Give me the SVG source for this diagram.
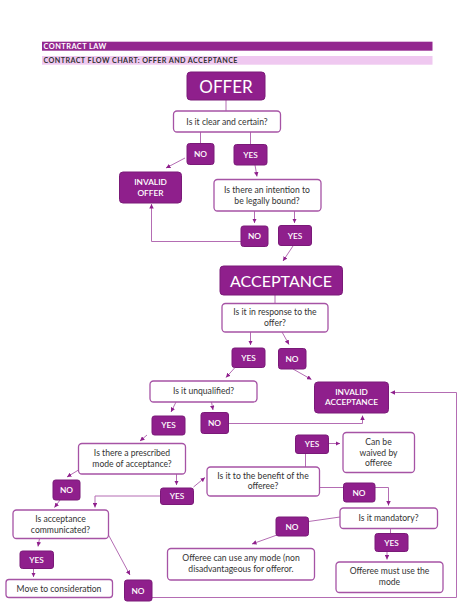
<svg xmlns="http://www.w3.org/2000/svg" width="474" height="613" viewBox="0 0 474 613">
<defs>
<style>
text{font-family:Lato,"Open Sans","Liberation Sans",sans-serif;}
.p{fill:#8f1f8c;stroke:#7a1a78;stroke-width:1;}
.w{fill:#ffffff;stroke:#a653a5;stroke-width:1.3;}
.tw{fill:#ffffff;font-size:8.3px;font-weight:600;text-anchor:middle;}
.td{fill:#333333;font-size:8.6px;text-anchor:middle;}
.big{fill:#ffffff;text-anchor:middle;}
.c{fill:none;stroke:#b46db3;stroke-width:1;}
</style>
<marker id="ah" viewBox="0 0 10 10" refX="10" refY="5" markerWidth="4.5" markerHeight="4.5" markerUnits="userSpaceOnUse" orient="auto">
<path d="M0,0 L10,5 L0,10 Z" fill="#8f1f8c"/>
</marker>
</defs>
<rect width="474" height="613" fill="#ffffff"/>
<g id="header">
<rect x="42" y="41.7" width="390.5" height="9" fill="#93278f"/>
<text x="43.5" y="49" fill="#ffffff" style="font-size:7.4px;font-weight:700;letter-spacing:0.45px">CONTRACT LAW</text>
<rect x="42" y="56" width="390.5" height="8.7" fill="#efc8f0"/>
<text x="43.5" y="63" fill="#333333" style="font-size:7.2px;font-weight:700;letter-spacing:0.4px">CONTRACT FLOW CHART: OFFER AND ACCEPTANCE</text>
</g>
<g id="connectors">
<line class="c" x1="226" y1="100" x2="226" y2="111"/>
<line class="c" x1="200.5" y1="132" x2="200.5" y2="143.5"/>
<line class="c" x1="250.5" y1="132" x2="250.5" y2="144.5"/>
<line class="c" x1="185" y1="158" x2="166" y2="168" marker-end="url(#ah)"/>
<line class="c" x1="255" y1="165" x2="257" y2="176.5" marker-end="url(#ah)"/>
<line class="c" x1="254.5" y1="211" x2="254.5" y2="223" marker-end="url(#ah)"/>
<line class="c" x1="294.5" y1="211" x2="294.5" y2="223" marker-end="url(#ah)"/>
<polyline class="c" points="241,241.5 151.5,241.5 151.5,204" marker-end="url(#ah)"/>
<line class="c" x1="293" y1="246" x2="283" y2="261" marker-end="url(#ah)"/>
<line class="c" x1="275" y1="295" x2="275" y2="303.5"/>
<line class="c" x1="250.5" y1="332" x2="250.5" y2="345" marker-end="url(#ah)"/>
<line class="c" x1="282" y1="332" x2="289" y2="344.5" marker-end="url(#ah)"/>
<line class="c" x1="293" y1="369" x2="311.5" y2="379.5" marker-end="url(#ah)"/>
<line class="c" x1="235" y1="367.5" x2="226" y2="377.5" marker-end="url(#ah)"/>
<line class="c" x1="176" y1="402" x2="171" y2="412" marker-end="url(#ah)"/>
<line class="c" x1="211.5" y1="402" x2="213" y2="410" marker-end="url(#ah)"/>
<polyline class="c" points="228.5,423.5 362.5,423.5 362.5,415.5" marker-end="url(#ah)"/>
<polyline class="c" points="152,597.5 456.5,597.5 456.5,392.5 390.5,392.5" marker-end="url(#ah)"/>
<line class="c" x1="147" y1="435" x2="140" y2="441" marker-end="url(#ah)"/>
<line class="c" x1="78.5" y1="470" x2="67" y2="477" marker-end="url(#ah)"/>
<line class="c" x1="60" y1="500" x2="54.5" y2="507.5" marker-end="url(#ah)"/>
<line class="c" x1="176.5" y1="474" x2="176.5" y2="485" marker-end="url(#ah)"/>
<line class="c" x1="193.5" y1="487" x2="205" y2="477.5" marker-end="url(#ah)"/>
<polyline class="c" points="160.5,496 95,496 95,507.5" marker-end="url(#ah)"/>
<line class="c" x1="328.5" y1="443.5" x2="340" y2="443.5" marker-end="url(#ah)"/>
<line class="c" x1="305.5" y1="453.5" x2="305.5" y2="467"/>
<line class="c" x1="319.5" y1="487.5" x2="343.5" y2="487.5"/>
<polyline class="c" points="375,487.5 388.5,487.5 388.5,505.5" marker-end="url(#ah)"/>
<line class="c" x1="340" y1="517" x2="308.5" y2="521.5"/>
<line class="c" x1="277" y1="535" x2="252" y2="544" marker-end="url(#ah)"/>
<line class="c" x1="390.5" y1="528.5" x2="390.5" y2="533.5"/>
<line class="c" x1="387" y1="552" x2="387" y2="559.5" marker-end="url(#ah)"/>
<line class="c" x1="39.5" y1="538.5" x2="38" y2="546.5" marker-end="url(#ah)"/>
<line class="c" x1="33.5" y1="568.5" x2="33.5" y2="577" marker-end="url(#ah)"/>
<line class="c" x1="108.5" y1="535" x2="130" y2="575" marker-end="url(#ah)"/>
</g>
<g id="offer"><rect class="p" x="187" y="72" width="78" height="28" rx="3.5"/><text class="big" x="226" y="92.5" style="font-size:17px">OFFER</text></g>
<g id="q-clear"><rect class="w" x="173.5" y="111" width="107" height="21" rx="3.5"/><text class="td" x="227" y="124.5">Is it clear and certain?</text></g>
<g id="no1"><rect class="p" x="187" y="143.5" width="27" height="21" rx="2.5"/><text class="tw" x="200.5" y="157">NO</text></g>
<g id="yes1"><rect class="p" x="234" y="144.5" width="33" height="20.5" rx="2.5"/><text class="tw" x="250.5" y="157.5">YES</text></g>
<g id="invalid-offer"><rect class="p" x="119.5" y="172" width="62" height="31" rx="3.5"/><text class="tw" x="150.5" y="185">INVALID</text><text class="tw" x="150.5" y="195.5">OFFER</text></g>
<g id="q-intention"><rect class="w" x="214" y="179.5" width="107" height="31.5" rx="3.5"/><text class="td" x="267" y="192.5">Is there an intention to</text><text class="td" x="267" y="203.5">be legally bound?</text></g>
<g id="no2"><rect class="p" x="241" y="226" width="27" height="20.5" rx="2.5"/><text class="tw" x="254.5" y="239">NO</text></g>
<g id="yes2"><rect class="p" x="278.5" y="225.5" width="33" height="20" rx="2.5"/><text class="tw" x="295" y="238.5">YES</text></g>
<g id="acceptance"><rect class="p" x="220" y="266" width="122.5" height="29" rx="3.5"/><text class="big" x="281" y="286.5" style="font-size:16px">ACCEPTANCE</text></g>
<g id="q-response"><rect class="w" x="222" y="303.5" width="106" height="28.5" rx="3.5"/><text class="td" x="275" y="315">Is it in response to the</text><text class="td" x="275" y="326">offer?</text></g>
<g id="yes3"><rect class="p" x="232" y="348" width="33" height="19.5" rx="2.5"/><text class="tw" x="248.5" y="360.5">YES</text></g>
<g id="no3"><rect class="p" x="278.5" y="348.5" width="27.5" height="20.5" rx="2.5"/><text class="tw" x="292" y="361.5">NO</text></g>
<g id="q-unqualified"><rect class="w" x="150" y="381" width="107" height="21" rx="3.5"/><text class="td" x="203.5" y="394">Is it unqualified?</text></g>
<g id="invalid-acceptance"><rect class="p" x="314.5" y="382" width="74" height="31" rx="3.5"/><text class="tw" x="351.5" y="394.5">INVALID</text><text class="tw" x="351.5" y="405">ACCEPTANCE</text></g>
<g id="yes4"><rect class="p" x="152" y="416" width="33" height="19" rx="2.5"/><text class="tw" x="168.5" y="428">YES</text></g>
<g id="no4"><rect class="p" x="201" y="412.5" width="27.5" height="21" rx="2.5"/><text class="tw" x="214.5" y="425.5">NO</text></g>
<g id="q-prescribed"><rect class="w" x="78.5" y="443.5" width="107" height="30.5" rx="3.5"/><text class="td" x="132" y="456">Is there a prescribed</text><text class="td" x="132" y="466.5">mode of acceptance?</text></g>
<g id="yes5"><rect class="p" x="295.5" y="435" width="33" height="18.5" rx="2.5"/><text class="tw" x="312" y="446.5">YES</text></g>
<g id="waived"><rect class="w" x="343" y="432.5" width="71.5" height="40" rx="3.5"/><text class="td" x="378.5" y="445">Can be</text><text class="td" x="378.5" y="455.5">waived by</text><text class="td" x="378.5" y="466">offeree</text></g>
<g id="q-benefit"><rect class="w" x="207" y="467" width="112.5" height="29" rx="3.5"/><text class="td" x="263" y="478.5">Is it to the benefit of the</text><text class="td" x="263" y="489">offeree?</text></g>
<g id="yes6"><rect class="p" x="160.5" y="488" width="33" height="16.5" rx="2.5"/><text class="tw" x="177" y="499">YES</text></g>
<g id="no6"><rect class="p" x="53" y="480" width="27" height="20" rx="2.5"/><text class="tw" x="66.5" y="492.5">NO</text></g>
<g id="q-communicated"><rect class="w" x="13" y="510" width="95.5" height="28.5" rx="3.5"/><text class="td" x="60.5" y="522">Is acceptance</text><text class="td" x="60.5" y="532.5">communicated?</text></g>
<g id="yes7"><rect class="p" x="20" y="551" width="33.5" height="17.5" rx="2.5"/><text class="tw" x="36.5" y="562.5">YES</text></g>
<g id="move"><rect class="w" x="6" y="579.5" width="106.5" height="18" rx="3"/><text class="td" x="59" y="591.5">Move to consideration</text></g>
<g id="no7"><rect class="p" x="124.5" y="580" width="27.5" height="21" rx="2.5"/><text class="tw" x="138" y="593.5">NO</text></g>
<g id="no8"><rect class="p" x="343.5" y="483" width="31.5" height="19" rx="2.5"/><text class="tw" x="359" y="495.5">NO</text></g>
<g id="q-mandatory"><rect class="w" x="340" y="508" width="97.5" height="20.5" rx="3.5"/><text class="td" x="388.5" y="520.5">Is it mandatory?</text></g>
<g id="no9"><rect class="p" x="276" y="517" width="32.5" height="19" rx="2.5"/><text class="tw" x="292" y="529.5">NO</text></g>
<g id="any-mode"><rect class="w" x="167.5" y="548.5" width="147" height="31.5" rx="3.5"/><text class="td" x="241" y="561">Offeree can use any mode (non</text><text class="td" x="241" y="571.5">disadvantageous for offeror.</text></g>
<g id="yes9"><rect class="p" x="375" y="533.5" width="33" height="18" rx="2.5"/><text class="tw" x="391.5" y="545.5">YES</text></g>
<g id="must-use"><rect class="w" x="336" y="562" width="107" height="30.5" rx="3.5"/><text class="td" x="389.5" y="574">Offeree must use the</text><text class="td" x="389.5" y="584.5">mode</text></g>
</svg>
